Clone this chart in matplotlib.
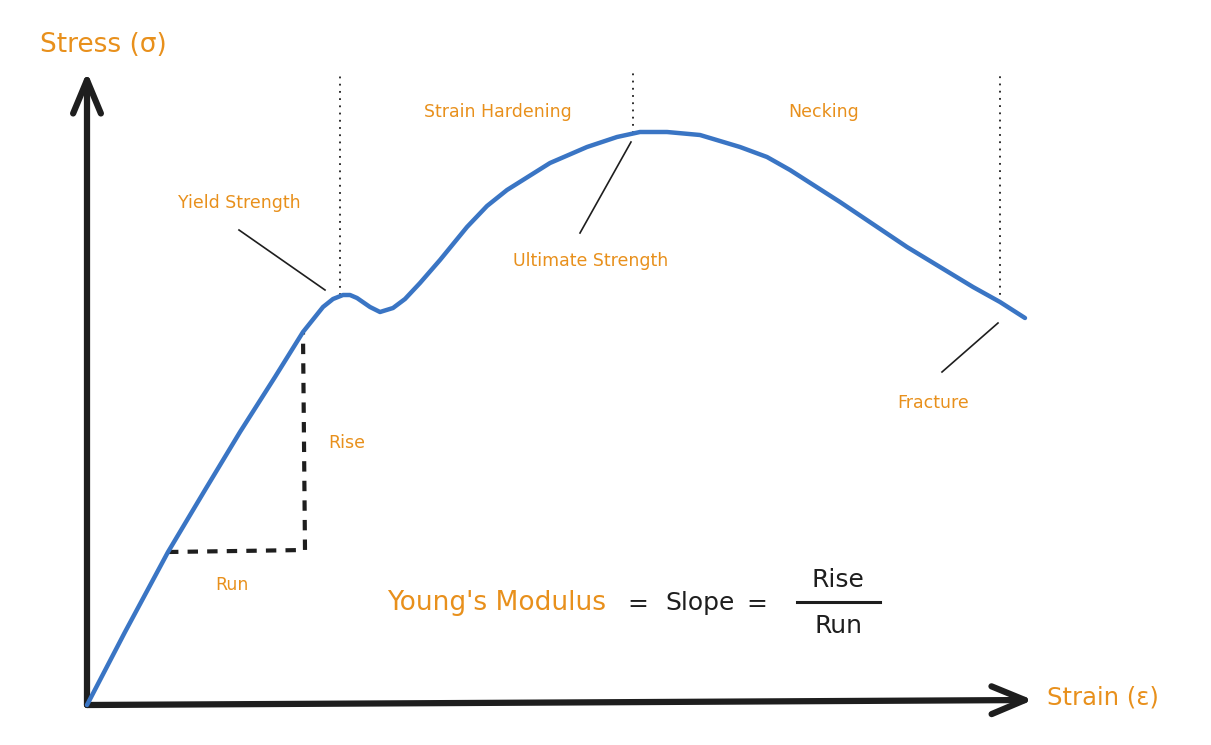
import matplotlib
matplotlib.use('Agg')
from matplotlib import pyplot as plt

# stress-strain curve, arbitrary units
strain = [0, 0.38, 0.81, 1.18, 1.53, 1.88, 2.16, 2.36, 2.46, 2.56, 2.63, 2.70,
          2.83, 2.93, 3.06, 3.18, 3.33, 3.53, 3.80, 4.00, 4.20, 4.63, 5.00,
          5.30, 5.53, 5.80, 6.13, 6.53, 6.80, 7.03, 7.53, 8.20, 8.86, 9.13,
          9.38]
stress = [0, 0.73, 1.53, 2.15, 2.73, 3.28, 3.73, 3.98, 4.06, 4.10, 4.10, 4.07,
          3.98, 3.93, 3.97, 4.06, 4.22, 4.45, 4.78, 4.99, 5.15, 5.42, 5.58,
          5.68, 5.73, 5.73, 5.70, 5.58, 5.48, 5.35, 5.03, 4.58, 4.18, 4.03,
          3.87]

# where the regions split
yield_pt = (2.53, 4.10)
ultimate_pt = (5.46, 5.72)
fracture_pt = (9.13, 4.03)
run_start = (0.81, 1.53)
rise_top = (2.16, 3.72)

orange = '#e8901c'
blue = '#3a75c4'
ink = '#1e1e1e'
font = 'DejaVu Sans'

fig = plt.figure(figsize=(12.11, 7.45), dpi=100)
ax = fig.add_axes([0, 0, 1, 1])
ax.set_xlim(-0.87, 11.24)
ax.set_ylim(-0.40, 7.05)
ax.axis('off')

# axes arrows
arrow = dict(arrowstyle='->,head_length=1.2,head_width=0.5', lw=4.5,
             color=ink, mutation_scale=20, shrinkA=0, shrinkB=0)
ax.annotate('', xy=(0, 6.33), xytext=(0, 0), arrowprops=arrow)
ax.annotate('', xy=(9.46, 0.05), xytext=(0, 0), arrowprops=arrow)

# curve
ax.plot(strain, stress, color=blue, lw=3.2, solid_joinstyle='round',
        solid_capstyle='round', zorder=3)

# region separators
for (x, y), top in [(yield_pt, 6.33), (ultimate_pt, 6.37), (fracture_pt, 6.33)]:
    ax.plot([x, x], [y, top], color=ink, lw=1.3, linestyle=(0, (1, 3)))

# rise / run
ax.plot([run_start[0], rise_top[0] + 0.02, rise_top[0]],
        [run_start[1], run_start[1] + 0.02, rise_top[1]],
        color=ink, lw=3, linestyle=(0, (2.5, 2.2)))

# pointers
ptr = dict(color=ink, lw=1.2)
ax.plot([1.52, 2.38], [4.75, 4.15], **ptr)
ax.plot([5.44, 4.93], [5.63, 4.72], **ptr)
ax.plot([9.11, 8.55], [3.82, 3.33], **ptr)

# labels
ax.text(-0.47, 6.60, 'Stress (σ)', color=orange, fontsize=19, family=font,
        ha='left', va='center')
ax.text(9.60, 0.08, 'Strain (ε)', color=orange, fontsize=17.5, family=font,
        ha='left', va='center')
lab = dict(color=orange, fontsize=12.5, family=font, ha='center', va='center')
ax.text(1.52, 5.02, 'Yield Strength', **lab)
ax.text(4.11, 5.93, 'Strain Hardening', **lab)
ax.text(7.37, 5.93, 'Necking', **lab)
ax.text(5.04, 4.44, 'Ultimate Strength', **lab)
ax.text(8.46, 3.02, 'Fracture', **lab)
ax.text(2.60, 2.62, 'Rise', **lab)
ax.text(1.45, 1.20, 'Run', **lab)

# formula
ax.text(3.00, 1.02, "Young's Modulus", color=orange, fontsize=19,
        family=font, ha='left', va='center')
eq = dict(color=ink, fontsize=18, family=font, ha='center', va='center')
ax.text(5.51, 1.01, '=', **eq)
ax.text(6.13, 1.02, 'Slope', **eq)
ax.text(6.70, 1.01, '=', **eq)
ax.text(7.51, 1.25, 'Rise', **eq)
ax.text(7.51, 0.79, 'Run', **eq)
ax.plot([7.10, 7.93], [1.03, 1.03], color=ink, lw=2.2)

fig.savefig('out.png', dpi=100)
